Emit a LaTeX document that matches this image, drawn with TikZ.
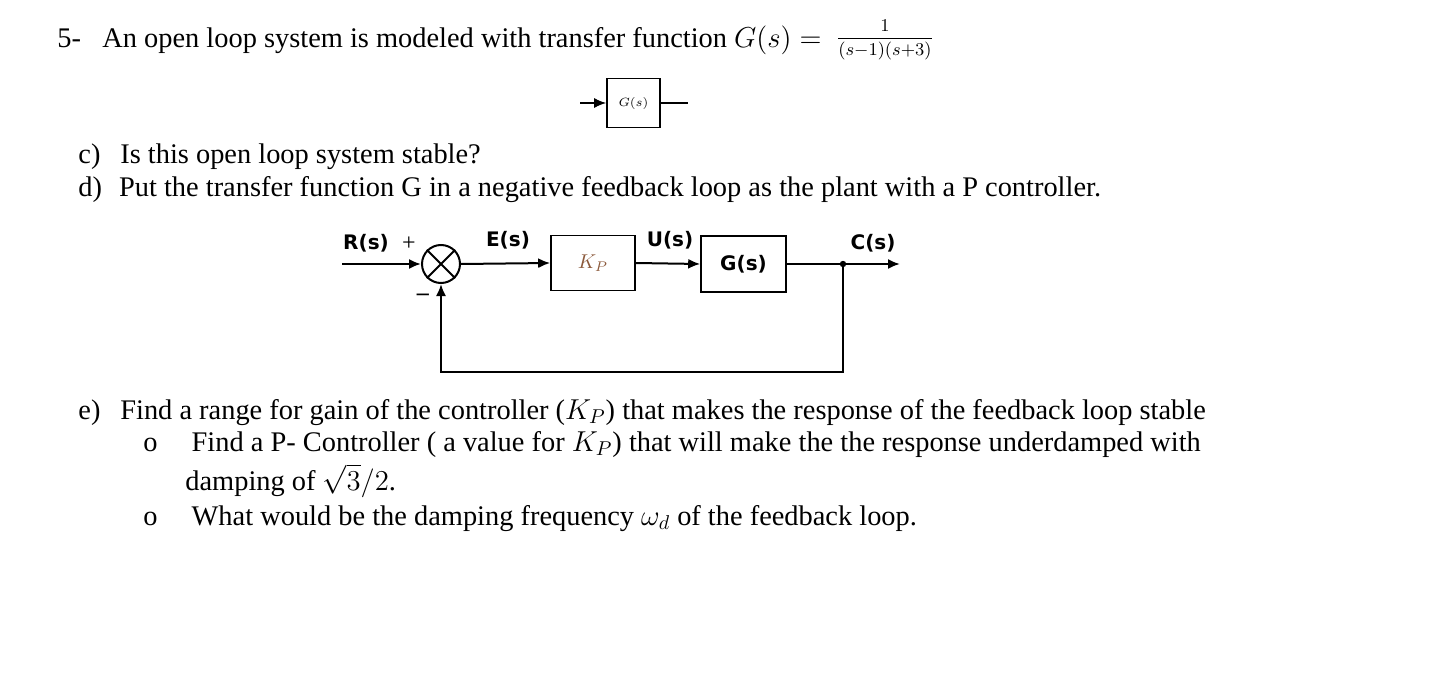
\documentclass[tikz,border=0pt]{standalone}
\usepackage{fontspec}
\setmainfont{Liberation Serif}
\newfontfamily\dsans{DejaVu Sans}
\usetikzlibrary{arrows.meta}
\definecolor{kbrown}{RGB}{140,90,60}
\begin{document}
\begin{tikzpicture}[x=0.5pt,y=-0.5pt,
  txt/.style={anchor=base west,inner sep=0,font=\fontsize{14.2}{16}\selectfont},
  lab/.style={inner sep=0,font=\dsans\bfseries\fontsize{10}{12}\selectfont},
  blk/.style={draw,line width=0.8pt,inner sep=0},
  ar/.style={line width=1pt,-{Latex[length=6pt,width=5pt]}},
  ln/.style={line width=1pt}]
\useasboundingbox (0,0) rectangle (1440,690);
\fill[white] (0,0) rectangle (1440,690);
\node[txt] (t1) at (57,48) {5-\hspace{0.5em} An open loop system is modeled with transfer function $G(s)=$};
\node[inner sep=0,font=\fontsize{9.5}{11}\selectfont] (fr) at (885,40) {$\displaystyle\frac{1}{(s{-}1)(s{+}3)}$};
% small block
\node[blk,minimum width=26.5pt,minimum height=24.5pt,font=\fontsize{6.5}{8}\selectfont] (g0) at (633.5,103) {$G(s)$};
\coordinate (g0in) at (580,103);
\coordinate (g0out) at (688,103);
\draw[ar,line width=0.8pt] (g0in) -- (g0.west);
\draw[ln,line width=1.2pt] (g0.east) -- (g0out);
\node[txt] (tc) at (78,163) {c)\hspace{0.7em}Is this open loop system stable?};
\node[txt] (td) at (78,196) {d)\hspace{0.6em}Put the transfer function G in a negative feedback loop as the plant with a P controller.};
% feedback diagram
\node[draw,circle,line width=1pt,minimum size=19pt,inner sep=0] (sum) at (441,264) {};
\draw[line width=1pt] (sum.north west) -- (sum.south east) (sum.north east) -- (sum.south west);
\node[blk,minimum width=42pt,minimum height=27.5pt,font=\fontsize{10}{12}\selectfont\color{kbrown}] (kp) at (593,263) {$K_P$};
\node[blk,minimum width=42.5pt,minimum height=28pt,lab] (gs) at (743.5,264) {G(s)};
\coordinate (rin) at (342,264);
\coordinate (br) at (843,264);
\coordinate (cout) at (900,264);
\coordinate (bl) at (843,372);
\coordinate (bll) at (441,372);
\draw[ar] (rin) -- (sum.west);
\draw[ar] (sum.east) -- (kp.west);
\draw[ar] (kp.east) -- (gs.west);
\draw[ar] (gs.east) -- (cout);
\fill (br) circle (1.6pt);
\draw[ar] (br) -- (bl) -- (bll) -- (sum.south);
\node[lab] (lr) at (366,243) {R(s)};
\node[inner sep=0,font=\fontsize{12}{12}\selectfont] (lp) at (409,244) {+};
\node[lab] (le) at (508,240) {E(s)};
\node[lab] (lu) at (670,240) {U(s)};
\node[lab] (lc) at (873,243) {C(s)};
\node[inner sep=0,font=\fontsize{12}{12}\selectfont] (lm) at (423,297) {\textbf{--}};
% part e
\node[txt] (te) at (78,419) {e)\hspace{0.7em}Find a range for gain of the controller ($K_P$) that makes the response of the feedback loop stable};
\node[txt] (b1) at (143,451) {o\hspace{1.2em}Find a P- Controller ( a value for $K_P$) that will make the the response underdamped with};
\node[txt] (b1b) at (185,490) {damping of $\sqrt{3}/2$.};
\node[txt] (b2) at (143,525) {o\hspace{1.2em}What would be the damping frequency $\omega_d$ of the feedback loop.};
\end{tikzpicture}
\end{document}
